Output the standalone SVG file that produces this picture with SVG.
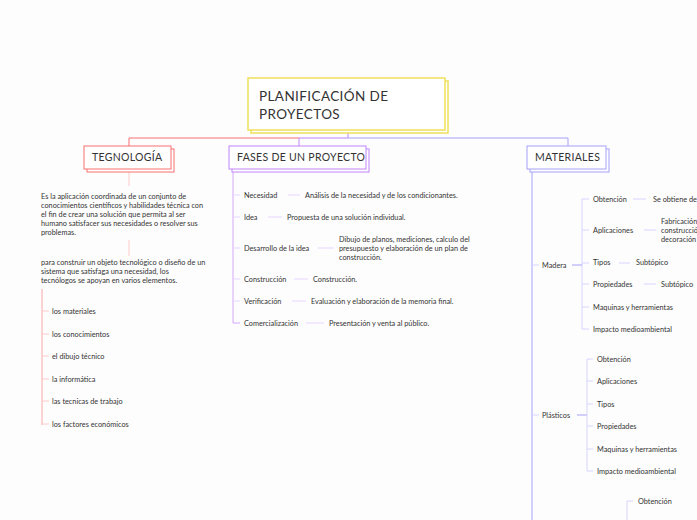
<svg xmlns="http://www.w3.org/2000/svg" width="697" height="520" viewBox="0 0 697 520">
<style>
text{font-family:"Lato","Liberation Sans",sans-serif;fill:#333}
.s{font-size:7.3px}
.h{font-size:10.5px;letter-spacing:0.3px}
.r{stroke:#f87171;fill:none}
.p{stroke:#c084fc;fill:none}
.b{stroke:#a5a0fb;fill:none}
.lr{stroke:#fecaca;fill:none}
.lp{stroke:#e9d5ff;fill:none}
.lb{stroke:#d6d4fd;fill:none}
</style>
<rect width="697" height="520" fill="#fdfdfd"/>
<g id="connectors">
<path class="r" d="M129,146V138H299"/>
<path class="p" d="M299,146V138H348V130"/>
<path class="b" d="M348,138H568V146"/>
<path class="lr" d="M129,170V186M129,240V256"/>
<path class="r" d="M42,289V425" stroke-opacity="0.6"/>
<path class="lr" d="M42,311H49M42,334H49M42,356H49M42,379H49M42,401H49M42,424H49"/>
<path class="p" d="M233,170V323H240" stroke-opacity="0.7"/>
<path class="lp" d="M233,195H240M233,217H240M233,248H240M233,279H240M233,301H240M288,195H300M268,217H282M318,248H334M294,279H308M292,301H306M306,323H324"/>
<path class="b" d="M532,170V520"/>
<path class="lb" d="M532,265H539M532,415H539M582,199V329M582,199H589M582,230H589M582,263H589M582,284H589M582,307H589M582,329H589M633,199H646M619,263H630M644,284H656M644,230H656"/>
<path class="b" d="M572,265H582M577,415H587"/>
<path class="lb" d="M587,359V471M587,359H593M587,381H593M587,404H593M587,426H593M587,449H593M587,471H593M627,520V501H633"/>
</g>
<g id="root"><rect x="251" y="81" width="197" height="52" fill="#fff" stroke="#f0e05a" stroke-width="1.5"/><rect x="248" y="78" width="197" height="52" fill="#fff" stroke="#f0e05a" stroke-width="1.5"/><text x="259" y="101" font-size="13.5" letter-spacing="0.4">PLANIFICACIÓN DE</text><text x="259" y="119" font-size="13.5" letter-spacing="0.4">PROYECTOS</text></g>
<g id="tegnologia"><rect x="87" y="149" width="87" height="23" fill="#fff" stroke="#f87171"/><rect x="84" y="146" width="87" height="23" fill="#fff" stroke="#f87171"/><text class="h" x="92" y="161">TEGNOLOGÍA</text></g>
<g id="fases"><rect x="232" y="149" width="137" height="23" fill="#fff" stroke="#c084fc"/><rect x="229" y="146" width="137" height="23" fill="#fff" stroke="#c084fc"/><text class="h" x="237" y="161">FASES DE UN PROYECTO</text></g>
<g id="materiales"><rect x="530" y="149" width="79" height="23" fill="#fff" stroke="#a5a0fb"/><rect x="527" y="146" width="79" height="23" fill="#fff" stroke="#a5a0fb"/><text class="h" x="535" y="161">MATERIALES</text></g>
<g id="teg-text" class="s">
<text x="41" y="199">Es la aplicación coordinada de un conjunto de</text>
<text x="41" y="208">conocimientos científicos y habilidades técnica con</text>
<text x="41" y="217">el fin de crear una solución que permita al ser</text>
<text x="41" y="226">humano satisfacer sus necesidades o resolver sus</text>
<text x="41" y="235">problemas.</text>
<text x="41" y="265">para construir un objeto tecnológico o diseño de un</text>
<text x="41" y="274">sistema que satisfaga una necesidad, los</text>
<text x="41" y="283">tecnólogos se apoyan en varios elementos.</text>
<text x="52" y="314">los materiales</text>
<text x="52" y="337">los conocimientos</text>
<text x="52" y="359">el dibujo técnico</text>
<text x="52" y="382">la informática</text>
<text x="52" y="404">las tecnicas de trabajo</text>
<text x="52" y="427">los factores económicos</text>
</g>
<g id="fases-items" class="s">
<text x="244" y="198">Necesidad</text><text x="305" y="198">Análisis de la necesidad y de los condicionantes.</text>
<text x="244" y="220">Idea</text><text x="287" y="220">Propuesta de una solución individual.</text>
<text x="244" y="251">Desarrollo de la idea</text>
<text x="339" y="242">Dibujo de planos, mediciones, calculo del</text>
<text x="339" y="251">presupuesto y  elaboración de un plan de</text>
<text x="339" y="260">construcción.</text>
<text x="244" y="282">Construcción</text><text x="313" y="282">Construcción.</text>
<text x="244" y="304">Verificación</text><text x="311" y="304">Evaluación y elaboración de la memoria final.</text>
<text x="244" y="326">Comercialización</text><text x="329" y="326">Presentación y venta al público.</text>
</g>
<g id="madera" class="s">
<text x="542" y="268">Madera</text>
<text x="593" y="202">Obtención</text><text x="653" y="202">Se obtiene de</text>
<text x="593" y="233">Aplicaciones</text>
<text x="661" y="224">Fabricación</text><text x="661" y="233">construcción</text><text x="661" y="242">decoración</text>
<text x="593" y="265">Tipos</text><text x="636" y="265">Subtópico</text>
<text x="593" y="287">Propiedades</text><text x="661" y="287">Subtópico</text>
<text x="593" y="310">Maquinas y herramientas</text>
<text x="593" y="332">Impacto medioambiental</text>
</g>
<g id="plasticos" class="s">
<text x="542" y="418">Plásticos</text>
<text x="597" y="362">Obtención</text>
<text x="597" y="384">Aplicaciones</text>
<text x="597" y="407">Tipos</text>
<text x="597" y="429">Propiedades</text>
<text x="597" y="452">Maquinas y herramientas</text>
<text x="597" y="474">Impacto medioambiental</text>
<text x="638" y="504">Obtención</text>
</g>
</svg>
